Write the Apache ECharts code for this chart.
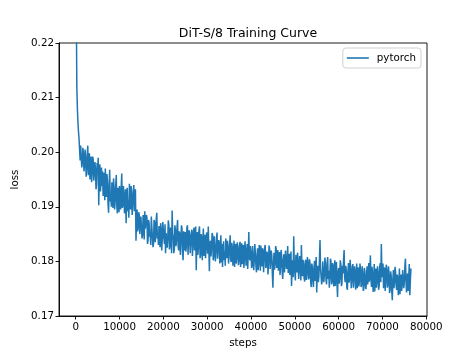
<!DOCTYPE html>
<html>
<head>
<meta charset="utf-8">
<script src="https://cdn.jsdelivr.net/npm/echarts@6/dist/echarts.min.js"></script>
<style>
html,body{margin:0;padding:0;background:#fff;}
#chart{width:474px;height:355px;}
</style>
</head>
<body>
<div id="chart"></div>
<script>
const LOG_INTERVAL = 125;
const loss = [
0.2480,0.2260,0.2120,0.2080,0.2055,0.2038,0.2025,0.2005,
0.1985,0.2012,0.2010,0.1972,0.1980,0.2008,0.1998,0.1965,
0.1975,0.2005,0.1992,0.1955,0.1968,0.1995,0.2012,0.1958,
0.1970,0.1998,0.1950,0.1985,0.1992,0.1945,0.1962,0.1992,
0.1985,0.1948,0.1945,0.1982,0.1970,0.1932,0.1940,0.1980,
0.1965,0.1990,0.1903,0.1958,0.1978,0.1928,0.1942,0.1972,
0.1938,0.1965,0.1920,0.1955,0.1962,0.1912,0.1970,0.1930,
0.1918,0.1960,0.1945,0.1905,0.1889,0.1940,0.1968,0.1910,
0.1922,0.1900,0.1945,0.1920,0.1898,0.1952,0.1935,0.1895,
0.1910,0.1940,0.1958,0.1902,0.1888,0.1935,0.1928,0.1890,
0.1938,0.1908,0.1895,0.1935,0.1961,0.1898,0.1902,0.1938,
0.1925,0.1888,0.1898,0.1932,0.1870,0.1915,0.1935,0.1892,
0.1912,0.1880,0.1942,0.1915,0.1895,0.1938,0.1928,0.1885,
0.1888,0.1925,0.1940,0.1892,0.1905,0.1932,0.1838,0.1875,
0.1895,0.1855,0.1862,0.1890,0.1885,0.1850,0.1852,0.1882,
0.1880,0.1842,0.1848,0.1885,0.1875,0.1840,0.1892,0.1860,
0.1858,0.1885,0.1880,0.1832,0.1838,0.1876,0.1870,0.1845,
0.1850,0.1830,0.1882,0.1862,0.1860,0.1826,0.1832,0.1876,
0.1872,0.1835,0.1845,0.1878,0.1889,0.1842,0.1852,0.1830,
0.1865,0.1840,0.1826,0.1870,0.1860,0.1820,0.1840,0.1872,
0.1875,0.1842,0.1832,0.1868,0.1815,0.1852,0.1855,0.1825,
0.1842,0.1875,0.1868,0.1822,0.1828,0.1862,0.1852,0.1815,
0.1893,0.1852,0.1845,0.1815,0.1822,0.1866,0.1858,0.1828,
0.1838,0.1864,0.1876,0.1828,0.1820,0.1855,0.1850,0.1812,
0.1836,0.1866,0.1860,0.1817,0.1802,0.1855,0.1848,0.1820,
0.1854,0.1818,0.1828,0.1862,0.1866,0.1812,0.1837,0.1857,
0.1848,0.1815,0.1818,0.1852,0.1858,0.1810,0.1827,0.1855,
0.1862,0.1820,0.1836,0.1864,0.1784,0.1832,0.1854,0.1812,
0.1825,0.1857,0.1864,0.1806,0.1813,0.1850,0.1843,0.1802,
0.1835,0.1860,0.1810,0.1839,0.1849,0.1806,0.1822,0.1853,
0.1846,0.1814,0.1864,0.1824,0.1782,0.1832,0.1838,0.1809,
0.1825,0.1852,0.1848,0.1802,0.1809,0.1846,0.1843,0.1800,
0.1818,0.1843,0.1853,0.1805,0.1805,0.1839,0.1832,0.1796,
0.1827,0.1848,0.1798,0.1832,0.1790,0.1823,0.1837,0.1802,
0.1818,0.1792,0.1842,0.1814,0.1806,0.1838,0.1828,0.1796,
0.1810,0.1832,0.1848,0.1803,0.1799,0.1834,0.1824,0.1792,
0.1814,0.1838,0.1790,0.1821,0.1832,0.1796,0.1807,0.1835,
0.1825,0.1793,0.1800,0.1829,0.1836,0.1790,0.1812,0.1833,
0.1795,0.1826,0.1830,0.1788,0.1806,0.1837,0.1820,0.1792,
0.1810,0.1832,0.1786,0.1814,0.1854,0.1808,0.1802,0.1828,
0.1818,0.1788,0.1792,0.1828,0.1825,0.1784,0.1803,0.1832,
0.1815,0.1792,0.1780,0.1810,0.1824,0.1784,0.1798,0.1830,
0.1810,0.1783,0.1829,0.1798,0.1791,0.1824,0.1820,0.1780,
0.1804,0.1825,0.1830,0.1788,0.1792,0.1818,0.1814,0.1776,
0.1800,0.1829,0.1823,0.1786,0.1783,0.1820,0.1810,0.1776,
0.1752,0.1795,0.1816,0.1785,0.1795,0.1828,0.1823,0.1788,
0.1800,0.1821,0.1783,0.1807,0.1817,0.1775,0.1793,0.1821,
0.1809,0.1780,0.1768,0.1802,0.1813,0.1780,0.1792,0.1820,
0.1821,0.1786,0.1797,0.1828,0.1779,0.1803,0.1814,0.1775,
0.1795,0.1818,0.1755,0.1788,0.1802,0.1771,0.1846,0.1794,
0.1791,0.1765,0.1812,0.1784,0.1780,0.1816,0.1802,0.1768,
0.1782,0.1810,0.1803,0.1765,0.1830,0.1790,0.1773,0.1803,
0.1794,0.1770,0.1763,0.1799,0.1803,0.1766,0.1777,0.1808,
0.1800,0.1767,0.1771,0.1804,0.1793,0.1762,0.1753,0.1796,
0.1791,0.1764,0.1753,0.1787,0.1801,0.1764,0.1780,0.1808,
0.1743,0.1780,0.1792,0.1762,0.1772,0.1804,0.1839,0.1786,
0.1786,0.1758,0.1765,0.1800,0.1800,0.1762,0.1776,0.1807,
0.1794,0.1765,0.1758,0.1797,0.1808,0.1768,0.1783,0.1752,
0.1772,0.1805,0.1801,0.1758,0.1762,0.1797,0.1791,0.1754,
0.1782,0.1802,0.1755,0.1789,0.1799,0.1759,0.1735,0.1780,
0.1788,0.1759,0.1769,0.1802,0.1795,0.1755,0.1759,0.1792,
0.1778,0.1803,0.1821,0.1771,0.1762,0.1792,0.1785,0.1752,
0.1748,0.1780,0.1797,0.1761,0.1768,0.1803,0.1786,0.1751,
0.1764,0.1791,0.1795,0.1752,0.1755,0.1791,0.1781,0.1748,
0.1772,0.1796,0.1751,0.1779,0.1789,0.1754,0.1765,0.1796,
0.1784,0.1753,0.1758,0.1791,0.1778,0.1746,0.1750,0.1788,
0.1781,0.1755,0.1749,0.1776,0.1791,0.1758,0.1769,0.1797,
0.1763,0.1785,0.1811,0.1768,0.1753,0.1790,0.1775,0.1744,
0.1770,0.1795,0.1745,0.1773,0.1787,0.1752,0.1762,0.1791,
0.1780,0.1748,0.1755,0.1790,0.1797,0.1762,0.1832,0.1779,
0.1771,0.1796,0.1751,0.1775,0.1789,0.1746,0.1765,0.1794,
0.1784,0.1752,0.1758,0.1791,0.1777,0.1742,0.1748,0.1782,
0.1773,0.1747,0.1729,0.1766,0.1784,0.1751,0.1762,0.1790,
0.1780,0.1756,0.1748,0.1776,0.1770,0.1738,0.1758,0.1787,
0.1740,0.1766,0.1776,0.1746,0.1756,0.1784,0.1787,0.1751,
0.1761,0.1792,0.1805,0.1765,0.1743,0.1772,0.1778,0.1746,
0.1770,0.1795,0.1738,0.1765,0.1787
];
const xTicks = [0,10000,20000,30000,40000,50000,60000,70000,80000];
const yTicks = [0.17,0.18,0.19,0.20,0.21,0.22];
const seriesName = 'pytorch';

const steps = loss.map((_, i) => i * LOG_INTERVAL);
const points = steps.map((s, i) => [s, loss[i]]);

const font = 'DejaVu Sans';
const chart = echarts.init(document.getElementById('chart'), null, {renderer:'canvas'});
chart.setOption({
  animation: false,
  backgroundColor: '#fff',
  title: {
    text: 'DiT-S/8 Training Curve',
    left: 243, top: 22, textAlign: 'center',
    textStyle: {fontFamily: font, fontSize: 12.5, fontWeight: 'normal', color: '#000'}
  },
  legend: {
    data: [{name: seriesName, icon: 'path://M0,0H22V1.6H0Z'}],
    right: 53, top: 48,
    orient: 'vertical',
    itemWidth: 22, itemHeight: 1.6, itemGap: 0,
    padding: [4, 5, 4, 4],
    borderColor: '#d0d0d0', borderWidth: 1, borderRadius: 3,
    backgroundColor: 'rgba(255,255,255,0.8)',
    textStyle: {fontFamily: font, fontSize: 10.3, color: '#000', padding: [0,0,0,3], lineHeight: 12}
  },
  grid: {
    left: 59, right: 47, top: 43, bottom: 39,
    show: true, borderColor: '#000', borderWidth: 0.9, backgroundColor: 'transparent'
  },
  xAxis: {
    type: 'value',
    min: -3820, max: 80170,
    name: 'steps', nameLocation: 'middle', nameGap: 22,
    nameTextStyle: {fontFamily: font, fontSize: 10.3, color: '#000'},
    axisLine: {show: true, onZero: false, lineStyle: {color: '#000', width: 0.9}},
    axisTick: {show: true, inside: false, length: 3.5, lineStyle: {color: '#000', width: 0.9}, customValues: xTicks},
    axisLabel: {fontFamily: font, fontSize: 10.3, color: '#000', margin: 6, customValues: xTicks, formatter: v => String(v)},
    splitLine: {show: false}
  },
  yAxis: {
    type: 'value',
    min: 0.17, max: 0.22, interval: 0.01,
    name: 'loss', nameLocation: 'middle', nameGap: 33,
    nameTextStyle: {fontFamily: font, fontSize: 10.3, color: '#000'},
    axisLine: {show: true, onZero: false, lineStyle: {color: '#000', width: 0.9}},
    axisTick: {show: true, inside: false, length: 3.5, lineStyle: {color: '#000', width: 0.9}, customValues: yTicks},
    axisLabel: {fontFamily: font, fontSize: 10.3, color: '#000', margin: 5, customValues: yTicks, formatter: v => v.toFixed(2)},
    splitLine: {show: false}
  },
  series: [{
    name: seriesName,
    type: 'line',
    data: points,
    symbol: 'none',
    showSymbol: false,
    clip: true,
    sampling: null,
    lineStyle: {color: '#1f77b4', width: 1.5},
    itemStyle: {color: '#1f77b4'}
  }]
});
</script>
</body>
</html>
